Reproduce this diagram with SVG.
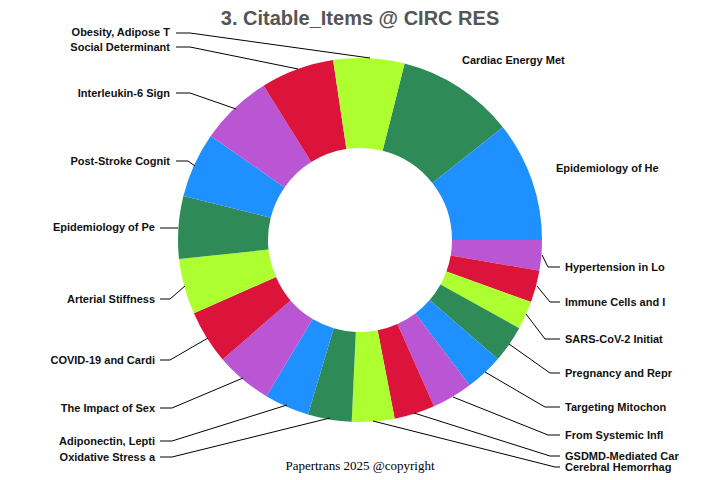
<svg xmlns="http://www.w3.org/2000/svg" width="720" height="480" viewBox="0 0 720 480">
<style>
.l{font-family:"Liberation Sans",Arial,sans-serif;font-size:11px;font-weight:bold;fill:#111}
.r{text-anchor:end}
.c path{fill:none;stroke:#000;stroke-width:1}
</style>
<rect width="720" height="480" fill="#fff"/>
<text x="360" y="25" text-anchor="middle" font-family="Liberation Sans,Arial,sans-serif" font-size="20" font-weight="bold" fill="#555">3. Citable_Items @ CIRC RES</text>
<g id="n1"><path fill="#2e8b57" d="M404.6,63.5A182,182 0 0 1 502.9,127.2L432.3,183.0A92,92 0 0 0 382.6,150.8Z"/></g>
<g id="n2"><path fill="#1e90ff" d="M502.9,127.2A182,182 0 0 1 542,240L452,240A92,92 0 0 0 432.3,183.0Z"/></g>
<g id="n3"><path fill="#ba55d3" d="M542,240A182,182 0 0 1 539.4,270.7L450.7,255.5A92,92 0 0 0 452,240Z"/></g>
<g id="n4"><path fill="#dc143c" d="M539.4,270.7A182,182 0 0 1 531.0,302.1L446.4,271.4A92,92 0 0 0 450.7,255.5Z"/></g>
<g id="n5"><path fill="#adff2f" d="M531.0,302.1A182,182 0 0 1 519.2,328.2L440.5,284.6A92,92 0 0 0 446.4,271.4Z"/></g>
<g id="n6"><path fill="#2e8b57" d="M519.2,328.2A182,182 0 0 1 497.9,358.9L429.7,300.1A92,92 0 0 0 440.5,284.6Z"/></g>
<g id="n7"><path fill="#1e90ff" d="M497.9,358.9A182,182 0 0 1 469.6,385.2L415.4,313.4A92,92 0 0 0 429.7,300.1Z"/></g>
<g id="n8"><path fill="#ba55d3" d="M469.6,385.2A182,182 0 0 1 434.0,406.3L397.4,324.0A92,92 0 0 0 415.4,313.4Z"/></g>
<g id="n9"><path fill="#dc143c" d="M434.0,406.3A182,182 0 0 1 394.7,418.7L377.6,330.3A92,92 0 0 0 397.4,324.0Z"/></g>
<g id="n10"><path fill="#adff2f" d="M394.7,418.7A182,182 0 0 1 351.7,421.8L355.8,331.9A92,92 0 0 0 377.6,330.3Z"/></g>
<g id="n11"><path fill="#2e8b57" d="M351.7,421.8A182,182 0 0 1 308.0,414.4L333.7,328.2A92,92 0 0 0 355.8,331.9Z"/></g>
<g id="n12"><path fill="#1e90ff" d="M308.0,414.4A182,182 0 0 1 266.4,396.2L312.7,319.0A92,92 0 0 0 333.7,328.2Z"/></g>
<g id="n13"><path fill="#ba55d3" d="M266.4,396.2A182,182 0 0 1 222.6,359.4L290.5,300.4A92,92 0 0 0 312.7,319.0Z"/></g>
<g id="n14"><path fill="#dc143c" d="M222.6,359.4A182,182 0 0 1 193.9,313.3L276.0,277.0A92,92 0 0 0 290.5,300.4Z"/></g>
<g id="n15"><path fill="#adff2f" d="M193.9,313.3A182,182 0 0 1 179.0,259.0L268.5,249.6A92,92 0 0 0 276.0,277.0Z"/></g>
<g id="n16"><path fill="#2e8b57" d="M179.0,259.0A182,182 0 0 1 183.4,196.0L270.7,217.7A92,92 0 0 0 268.5,249.6Z"/></g>
<g id="n17"><path fill="#1e90ff" d="M183.4,196.0A182,182 0 0 1 210.7,135.9L284.5,187.4A92,92 0 0 0 270.7,217.7Z"/></g>
<g id="n18"><path fill="#ba55d3" d="M210.7,135.9A182,182 0 0 1 263.6,85.7L311.2,162.0A92,92 0 0 0 284.5,187.4Z"/></g>
<g id="n19"><path fill="#dc143c" d="M263.6,85.7A182,182 0 0 1 333.1,60.0L346.4,149.0A92,92 0 0 0 311.2,162.0Z"/></g>
<g id="n20"><path fill="#adff2f" d="M333.1,60.0A182,182 0 0 1 404.6,63.5L382.6,150.8A92,92 0 0 0 346.4,149.0Z"/></g>
<g class="c" id="connectors">
<path d="M542,255L548,267H560"/>
<path d="M537,286L550,302H560"/>
<path d="M526,314L545,339H560"/>
<path d="M509,344L550,373H560"/>
<path d="M485,372L545,407H560"/>
<path d="M453,397L548,435H560"/>
<path d="M414,413L550,456H560"/>
<path d="M373,421L555,467H560"/>
<path d="M330,418L172,457H160"/>
<path d="M287,405L172,441H160"/>
<path d="M243,378L172,408H160"/>
<path d="M208,338L170,360H160"/>
<path d="M185,286L170,299H160"/>
<path d="M178,228H160"/>
<path d="M195,166L188,161H176"/>
<path d="M236,109L190,93H176"/>
<path d="M298,69L190,47H176"/>
<path d="M370,58L190,33H176"/>
</g>
<g class="l">
<text x="462" y="64">Cardiac Energy Met</text>
<text x="556" y="172">Epidemiology of He</text>
<text x="565" y="271">Hypertension in Lo</text>
<text x="565" y="306">Immune Cells and I</text>
<text x="565" y="343">SARS-CoV-2 Initiat</text>
<text x="565" y="377">Pregnancy and Repr</text>
<text x="565" y="411">Targeting Mitochon</text>
<text x="565" y="439">From Systemic Infl</text>
<text x="565" y="460">GSDMD-Mediated Car</text>
<text x="565" y="471">Cerebral Hemorrhag</text>
<text class="r" x="155" y="461">Oxidative Stress a</text>
<text class="r" x="155" y="445">Adiponectin, Lepti</text>
<text class="r" x="155" y="412">The Impact of Sex </text>
<text class="r" x="155" y="364">COVID-19 and Cardi</text>
<text class="r" x="155" y="303">Arterial Stiffness</text>
<text class="r" x="155" y="231">Epidemiology of Pe</text>
<text class="r" x="170" y="165">Post-Stroke Cognit</text>
<text class="r" x="170" y="97">Interleukin-6 Sign</text>
<text class="r" x="170" y="51">Social Determinant</text>
<text class="r" x="170" y="36">Obesity, Adipose T</text>
</g>
<text x="360" y="470" text-anchor="middle" font-family="Liberation Serif,serif" font-size="13" fill="#000">Papertrans 2025 @copyright</text>
</svg>
